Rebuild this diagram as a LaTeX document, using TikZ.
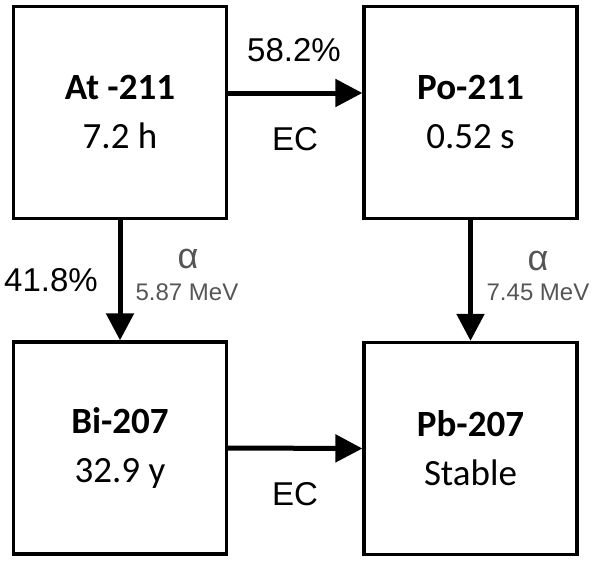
\documentclass[tikz,border=0pt]{standalone}
\usepackage{fontspec}
\setmainfont{Carlito}
\newfontfamily\lblfont{Liberation Sans}
\usetikzlibrary{arrows.meta}
\definecolor{lblgray}{HTML}{555555}
\tikzset{
  isobox/.style={draw=black, line width=3.2pt, minimum width=213pt, minimum height=212pt,
    align=center, inner sep=0pt, font=\fontsize{37}{49}\selectfont},
  decayarrow/.style={line width=5pt, -{Triangle[length=27pt,width=27pt]}},
  pct/.style={font=\lblfont\fontsize{33}{36}\selectfont, inner sep=0pt},
  alph/.style={font=\lblfont\fontsize{36}{38}\selectfont, text=lblgray, inner sep=0pt},
  energy/.style={font=\lblfont\fontsize{24}{26}\selectfont, text=lblgray, inner sep=0pt}
}
\begin{document}
\begin{tikzpicture}[x=1pt,y=-1pt]
\useasboundingbox (0,0) rectangle (600,560);
\node[isobox] (at) at (120,112.5) {{\bfseries At -211}\\7.2 h};
\node[isobox] (po) at (470.5,112.5) {{\bfseries Po-211}\\0.52 s};
\node[isobox] (bi) at (120,448) {{\bfseries Bi-207}\\32.9 y};
\node[isobox] (pb) at (470.5,448.5) {{\bfseries Pb-207}\\Stable};
\draw[decayarrow] ([yshift=19.5pt]at.east) -- ([yshift=19.5pt]po.west);
\draw[decayarrow] (at.south) -- (bi.north);
\draw[decayarrow] (po.south) -- (pb.north);
\draw[decayarrow] (bi.east) -- (pb.west);
\node[pct] (p582) at (294,50) {58.2\%};
\node[pct] (ec1) at (295,139) {EC};
\node[pct] (ec2) at (295,494) {EC};
\node[pct] (p418) at (51,280) {41.8\%};
\node[alph] (a1) at (188,259) {α};
\node[energy] (e1) at (187,292) {5.87 MeV};
\node[alph] (a2) at (538,261) {α};
\node[energy] (e2) at (538,292) {7.45 MeV};
\end{tikzpicture}
\end{document}
